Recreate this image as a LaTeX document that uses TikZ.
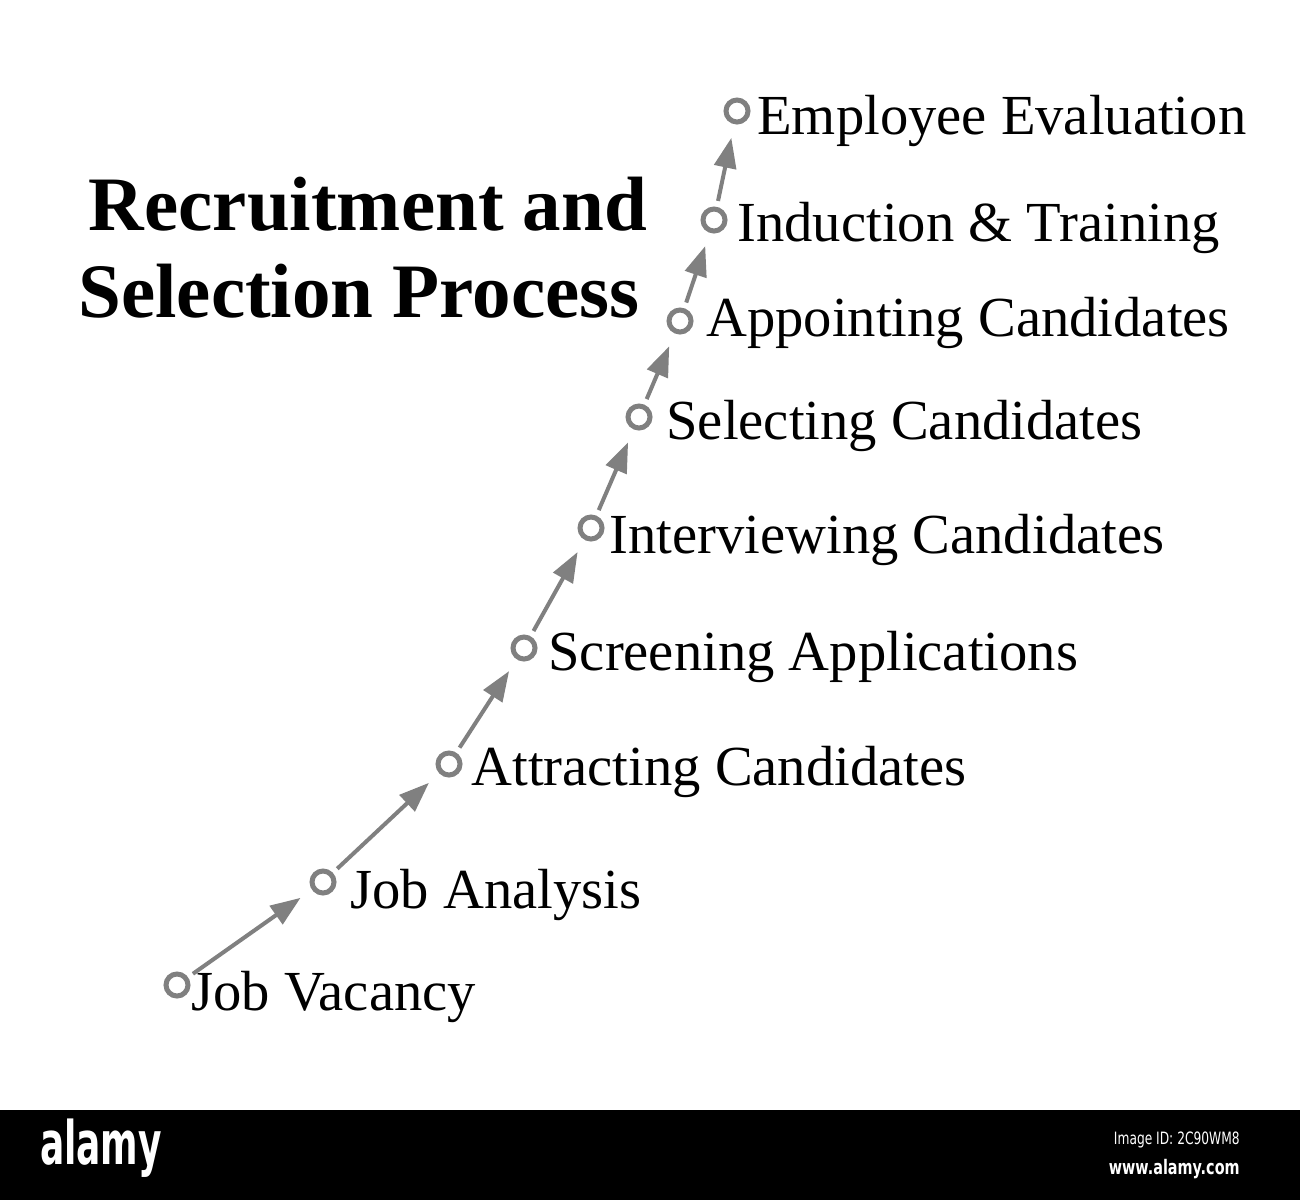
\documentclass[tikz,border=0pt]{standalone}
\usepackage{fontspec}
\setmainfont{Liberation Serif}
\newfontfamily\wmfont[FakeStretch=0.72]{DejaVu Sans}
\newfontfamily\wmlogo[FakeStretch=0.6]{DejaVu Sans}
\usetikzlibrary{arrows.meta}
\definecolor{stepgray}{HTML}{808080}
\tikzset{
  dot/.style={circle, draw=stepgray, line width=2.5pt, minimum size=11pt, inner sep=0pt, fill=white},
  lbl/.style={anchor=base west, inner sep=0pt, font=\fontsize{28.3}{32}\selectfont},
  ttl/.style={anchor=base, inner sep=0pt, font=\fontsize{38.5}{44}\selectfont\bfseries},
  flow/.style={draw=stepgray, line width=2pt, -{Triangle[length=15pt,width=11pt]}, fill=stepgray, shorten <=3pt, shorten >=7pt}
}
\begin{document}
\begin{tikzpicture}[x=0.5pt,y=-0.5pt]
\useasboundingbox (0,0) rectangle (1300,1200);
\fill[white] (0,0) rectangle (1300,1200);
% title
\node[ttl] (t1) at (368,230) {Recruitment and};
\node[ttl] (t2) at (359,317) {Selection Process};
% circles
\node[dot] (c1) at (177,985) {};
\node[dot] (c2) at (323,882) {};
\node[dot] (c3) at (449,764) {};
\node[dot] (c4) at (524,648) {};
\node[dot] (c5) at (591,528) {};
\node[dot] (c6) at (639,417) {};
\node[dot] (c7) at (680,321) {};
\node[dot] (c8) at (714,220) {};
\node[dot] (c9) at (737,111) {};
% labels
\node[lbl] (l1) at (191,1010) {Job Vacancy};
\node[lbl] (l2) at (350,908) {Job Analysis};
\node[lbl] (l3) at (471,785) {Attracting Candidates};
\node[lbl] (l4) at (548,670) {Screening Applications};
\node[lbl] (l5) at (609,553) {Interviewing Candidates};
\node[lbl] (l6) at (666,439) {Selecting Candidates};
\node[lbl] (l7) at (706,336) {Appointing Candidates};
\node[lbl] (l8) at (737,241) {Induction \& Training};
\node[lbl] (l9) at (757,134) {Employee Evaluation};
% arrows
\foreach \a/\b in {c1/c2,c2/c3,c3/c4,c4/c5,c5/c6,c6/c7,c7/c8,c8/c9}
  \draw[flow] (\a) -- (\b);
% watermark band
\fill[black] (0,1110) rectangle (1300,1200);
\node[anchor=center, inner sep=0pt, text=white, font=\wmlogo\fontsize{30}{32}\selectfont\bfseries] (wm1) at (101,1148) {alamy};
\node[anchor=base east, inner sep=0pt, text=white, font=\wmfont\fontsize{8.5}{10}\selectfont] (wm2) at (1240,1144) {Image ID: 2C90WM8};
\node[anchor=base east, inner sep=0pt, text=white, font=\wmfont\fontsize{10}{12}\selectfont\bfseries] (wm3) at (1240,1174) {www.alamy.com};
\end{tikzpicture}
\end{document}
